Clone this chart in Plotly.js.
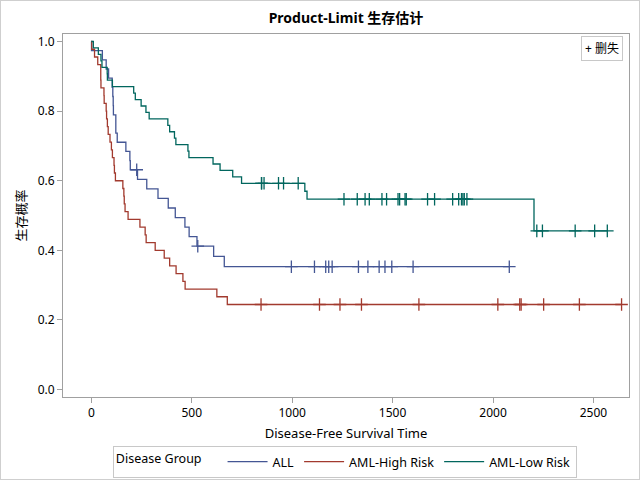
<!DOCTYPE html>
<html>
<head>
<meta charset="utf-8">
<script src="https://cdn.plot.ly/plotly-3.0.1.min.js"></script>
<style>
  body { margin: 0; }
  #frame { position: absolute; left: 0; top: 0; width: 640px; height: 480px; box-sizing: border-box; border: 1px solid #cfcfcf; pointer-events: none; }
</style>
</head>
<body>
<div id="myDiv" style="width:640px;height:480px;"></div>
<div id="frame"></div>
<script>
// survival times (days) and status (1 = event, 0 = censored)
var allTime = [2081, 1602, 1496, 1462, 1433, 1377, 1330, 996, 226, 1199, 1111, 530, 1182, 1167,
  418, 383, 276, 104, 609, 172, 487, 662, 194, 230, 526, 122, 129, 74, 122, 86, 466, 192, 109, 55, 1, 107, 110, 332];
var allStatus = [0, 0, 0, 0, 0, 0, 0, 0, 0, 0, 0, 0, 0, 0,
  1, 1, 1, 1, 1, 1, 1, 1, 1, 1, 1, 1, 1, 1, 1, 1, 1, 1, 1, 1, 1, 1, 1, 1];

var lowTime = [2569, 2506, 2409, 2218, 1857, 1829, 1562, 1470, 1363, 1030, 860, 1258, 2246, 1870, 1799,
  1709, 1674, 1568, 1527, 1324, 957, 932, 847, 848, 1850, 1843, 1535, 1447, 1384,
  414, 2204, 1063, 481, 105, 641, 390, 288, 421, 79, 748, 486, 48, 272, 1074, 381, 10, 53, 80, 35, 248, 704, 211, 219, 606];
var lowStatus = [0, 0, 0, 0, 0, 0, 0, 0, 0, 0, 0, 0, 0, 0, 0,
  0, 0, 0, 0, 0, 0, 0, 0, 0, 0, 0, 0, 0, 0,
  1, 1, 1, 1, 1, 1, 1, 1, 1, 1, 1, 1, 1, 1, 1, 1, 1, 1, 1, 1, 1, 1, 1, 1, 1];

var highTime = [2640, 2430, 2252, 2140, 2133, 1238, 1631, 2024, 1345, 1136, 845,
  422, 162, 84, 100, 2, 47, 242, 456, 268, 318, 32, 467, 47, 390, 183, 105, 115, 164, 93, 120, 80, 677, 64, 168, 74, 16, 157, 625, 48, 273, 63, 76, 113, 363];
var highStatus = [0, 0, 0, 0, 0, 0, 0, 0, 0, 0, 0,
  1, 1, 1, 1, 1, 1, 1, 1, 1, 1, 1, 1, 1, 1, 1, 1, 1, 1, 1, 1, 1, 1, 1, 1, 1, 1, 1, 1, 1, 1, 1, 1, 1, 1];

var groups = ['ALL', 'AML-High Risk', 'AML-Low Risk'];
var colors = ['#445694', '#A23A2E', '#01665E'];

var font = 'Noto Sans, Noto Sans CJK SC, sans-serif';

// product-limit estimate
function km(time, status) {
  var idx = time.map(function (t, i) { return i; });
  idx.sort(function (a, b) { return time[a] - time[b] || status[b] - status[a]; });
  var n = time.length, s = 1;
  var x = [0], y = [1], cx = [], cy = [];
  var i = 0;
  while (i < idx.length) {
    var t = time[idx[i]], d = 0, c = 0;
    while (i < idx.length && time[idx[i]] === t) {
      if (status[idx[i]] === 1) d++; else c++;
      i++;
    }
    if (d > 0) s = s * (1 - d / n);
    x.push(t); y.push(s);
    if (c > 0) { cx.push(t); cy.push(s); }
    n -= d + c;
  }
  return { x: x, y: y, cx: cx, cy: cy };
}

var sets = [[allTime, allStatus], [highTime, highStatus], [lowTime, lowStatus]];
var data = [];
sets.forEach(function (g, k) {
  var r = km(g[0], g[1]);
  data.push({
    type: 'scatter', mode: 'lines', x: r.x, y: r.y, name: groups[k],
    line: { shape: 'hv', color: colors[k], width: 1.3 }
  });
  data.push({
    type: 'scatter', mode: 'markers', x: r.cx, y: r.cy, showlegend: false,
    marker: { symbol: 'cross-thin', size: 9, line: { color: colors[k], width: 1.3 } }
  });
});

var layout = {
  width: 640, height: 480,
  margin: { l: 63, r: 11, t: 34, b: 83 },
  font: { family: font, size: 12, color: '#000' },
  title: { text: 'Product-Limit 生存估计', font: { size: 14, weight: 'bold' },
    x: 0.5, xref: 'paper', y: 1 - 18 / 480, yanchor: 'middle' },
  xaxis: {
    range: [-141, 2677], tickvals: [0, 500, 1000, 1500, 2000, 2500],
    ticks: 'outside', ticklen: 5, tickcolor: '#a0a0a0', automargin: false,
    showline: true, mirror: true, linecolor: '#a0a0a0', showgrid: false, zeroline: false,
    title: { text: 'Disease-Free Survival Time', font: { size: 13 }, standoff: 8 }
  },
  yaxis: {
    range: [-0.0213, 1.0216], tickvals: [0, 0.2, 0.4, 0.6, 0.8, 1.0], tickformat: '.1f',
    ticks: 'outside', ticklen: 5, tickcolor: '#a0a0a0', automargin: false,
    showline: true, mirror: true, linecolor: '#a0a0a0', showgrid: false, zeroline: false,
    title: { text: '生存概率', font: { size: 13 }, standoff: 8 }
  },
  legend: {
    orientation: 'h', x: 0.498, xanchor: 'center', yref: 'container', y: 1 - 446 / 480, yanchor: 'top',
    title: { text: 'Disease Group&nbsp;&nbsp;&nbsp;&nbsp;', side: 'left', font: { size: 12.5 } },
    bordercolor: '#c8c8c8', borderwidth: 1, itemwidth: 40, font: { size: 12.5 }
  },
  annotations: [{
    text: '+ 删失', xref: 'paper', yref: 'paper', x: 0.99, y: 0.995, xanchor: 'right', yanchor: 'top',
    showarrow: false, bordercolor: '#c8c8c8', borderwidth: 1, borderpad: 3, font: { size: 12 }
  }],
  plot_bgcolor: '#fff', paper_bgcolor: '#fff'
};

Plotly.newPlot('myDiv', data, layout, { displayModeBar: false });
</script>
</body>
</html>
